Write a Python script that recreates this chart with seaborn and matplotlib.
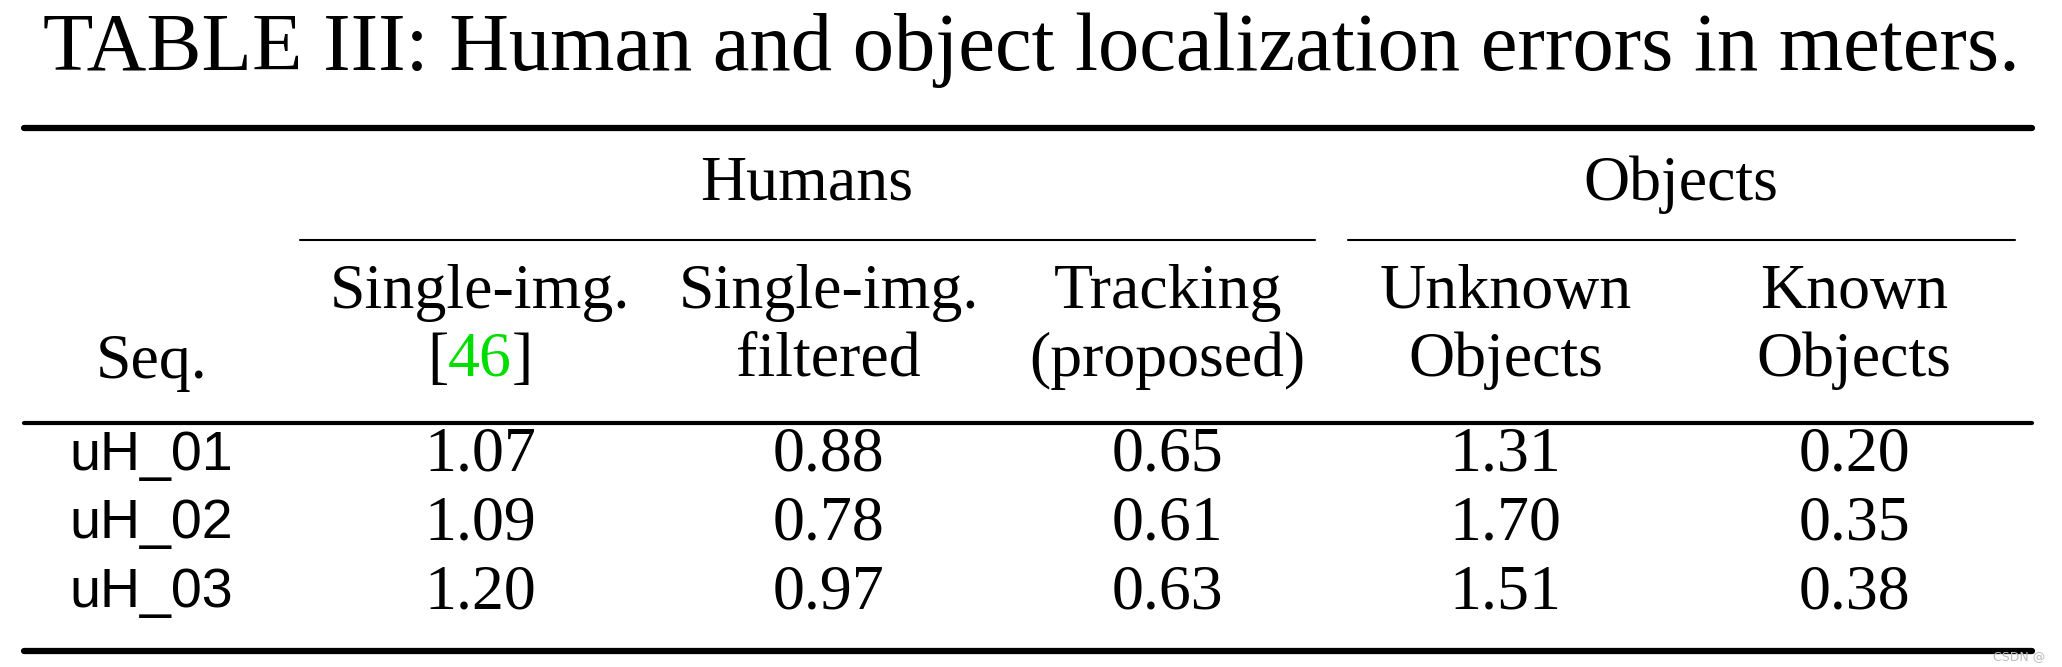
import matplotlib
matplotlib.use("Agg")
import matplotlib.pyplot as plt
import seaborn as sns

sns.set_theme(style="white")
plt.rcParams['font.family'] = ['Liberation Serif', 'DejaVu Serif']
plt.rcParams['text.color'] = 'black'

title = "TABLE III: Human and object localization errors in meters."
groups = ["Humans", "Objects"]
seqs = ["uH_01", "uH_02", "uH_03"]
single_img = ["1.07", "1.09", "1.20"]
single_filtered = ["0.88", "0.78", "0.97"]
tracking = ["0.65", "0.61", "0.63"]
unknown_obj = ["1.31", "1.70", "1.51"]
known_obj = ["0.20", "0.35", "0.38"]
columns = [single_img, single_filtered, tracking, unknown_obj, known_obj]
headers = [("Single-img.", None), ("Single-img.", "filtered"), ("Tracking", "(proposed)"),
           ("Unknown", "Objects"), ("Known", "Objects")]

W, H = 1568, 505
fig = plt.figure(figsize=(20.62, 6.67), dpi=100)
ax = fig.add_axes([0, 0, 1, 1])
ax.set_xlim(0, W); ax.set_ylim(H, 0); ax.axis("off")

FS = 46
ax.text(784, 38, title, ha="center", va="center", fontsize=59.5, color="black")
ax.plot([18, 1545], [97, 97], color="black", lw=4.5)
ax.plot([228, 1000], [182, 182], color="black", lw=1.5)
ax.plot([1025, 1532], [182, 182], color="black", lw=1.5)
ax.plot([18, 1545], [320, 320], color="black", lw=3)
ax.plot([18, 1545], [493, 493], color="black", lw=4.5)

ax.text(613, 140, groups[0], ha="center", va="center", fontsize=FS, color="black")
ax.text(1278, 140, groups[1], ha="center", va="center", fontsize=FS, color="black")

xs = [365, 630, 888, 1145, 1410]
ax.text(115, 275, "Seq.", ha="center", va="center", fontsize=FS, color="black")
for x, (h1, h2) in zip(xs, headers):
    ax.text(x, 222, h1, ha="center", va="center", fontsize=FS, color="black")
    if h2 is not None:
        ax.text(x, 273, h2, ha="center", va="center", fontsize=FS, color="black")
ax.text(341, 273, "[", ha="right", va="center", fontsize=FS, color="black")
ax.text(365, 273, "46", ha="center", va="center", fontsize=FS, color="#00dd00")
ax.text(389, 273, "]", ha="left", va="center", fontsize=FS, color="black")

rows_y = [345, 397, 449]
for i, y in enumerate(rows_y):
    ax.text(115, y, seqs[i], ha="center", va="center", fontsize=FS * 0.87, color="black",
            family=["Liberation Sans", "DejaVu Sans"])
    for x, col in zip(xs, columns):
        ax.text(x, y, col[i], ha="center", va="center", fontsize=FS, color="black")

ax.text(1555, 497, "CSDN @", ha="right", va="center", fontsize=9, color="#bbbbbb",
        family=["DejaVu Sans"])
fig.savefig("out.png", dpi=100, facecolor="white")
